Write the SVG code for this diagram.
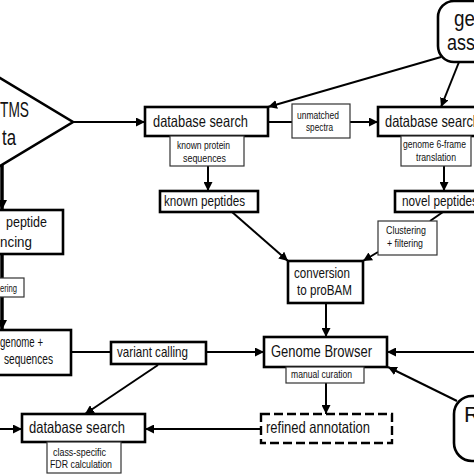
<svg xmlns="http://www.w3.org/2000/svg" width="474" height="474" viewBox="0 0 474 474">
<defs>
<marker id="ah" viewBox="0 0 10 10" refX="10" refY="5" markerWidth="9" markerHeight="9" markerUnits="userSpaceOnUse" orient="auto">
<path d="M0,0 L10,5 L0,10 Z" fill="#000"/>
</marker>
<marker id="ahb" viewBox="0 0 10 10" refX="10" refY="5" markerWidth="10" markerHeight="10" markerUnits="userSpaceOnUse" orient="auto">
<path d="M0,0 L10,5 L0,10 Z" fill="#000"/>
</marker>
</defs>
<style>
.main{fill:#fff;stroke:#000;stroke-width:2.6}
.sub{fill:#fff;stroke:#333;stroke-width:1.2}
.dash{fill:#fff;stroke:#000;stroke-width:2.4;stroke-dasharray:9 4}
.round{fill:#fff;stroke:#000;stroke-width:2.6}
text{font-family:"Liberation Sans",Arial,sans-serif;fill:#111}
.t16{font-size:16.5px}
.t15{font-size:15px}
.t14{font-size:14px}
.t11{font-size:11px}
.t10{font-size:10px}
.big{font-size:22px}
.c{fill:none;stroke:#000;stroke-width:2}
.ct{fill:none;stroke:#000;stroke-width:3.5}
</style>
<rect width="474" height="474" fill="#fff"/>
<g id="connectors">
<line class="c" x1="73" y1="122" x2="145" y2="122" marker-end="url(#ah)"/>
<line class="c" x1="268" y1="122" x2="292" y2="122"/>
<line class="c" x1="350" y1="122" x2="378" y2="122" marker-end="url(#ah)"/>
<line class="c" x1="441" y1="57" x2="268" y2="107" marker-end="url(#ah)"/>
<line class="c" x1="459" y1="62" x2="441" y2="107" marker-end="url(#ah)"/>
<line class="c" x1="208" y1="166" x2="208" y2="191" marker-end="url(#ah)"/>
<line class="c" x1="444" y1="166" x2="444" y2="191" marker-end="url(#ah)"/>
<line class="c" x1="232" y1="212" x2="288" y2="261" marker-end="url(#ah)"/>
<line class="c" x1="443" y1="212" x2="430" y2="221"/>
<line class="c" x1="378" y1="252" x2="363" y2="261" marker-end="url(#ah)"/>
<line class="c" x1="326" y1="303" x2="326" y2="337" marker-end="url(#ah)"/>
<line class="c" x1="71" y1="352" x2="111" y2="352"/>
<line class="c" x1="206" y1="352" x2="264" y2="352" marker-end="url(#ah)"/>
<line class="c" x1="476" y1="352" x2="387" y2="352" marker-end="url(#ah)"/>
<line class="c" x1="457" y1="401" x2="388" y2="367" marker-end="url(#ah)"/>
<line class="c" x1="326" y1="383" x2="326" y2="414" marker-end="url(#ah)"/>
<line class="c" x1="261" y1="429" x2="145" y2="429" marker-end="url(#ah)"/>
<line class="c" x1="-2" y1="429" x2="22" y2="429" marker-end="url(#ah)"/>
<line class="c" x1="158" y1="365" x2="85" y2="414" marker-end="url(#ah)"/>
<line class="ct" x1="2" y1="163" x2="2" y2="210" marker-end="url(#ahb)"/>
<line class="ct" x1="2" y1="254" x2="2" y2="278"/>
<line class="ct" x1="2" y1="297" x2="2" y2="330" marker-end="url(#ahb)"/>
</g>
<g id="msms-data">
<polygon class="main" points="-60,42 73,122 -60,202"/>
<text class="big" x="0" y="117" textLength="29" lengthAdjust="spacingAndGlyphs">TMS</text>
<text class="big" x="2" y="145" textLength="14" lengthAdjust="spacingAndGlyphs">ta</text>
</g>
<g id="db-search-1">
<rect class="main" x="145" y="107" width="123" height="29"/>
<text class="t16" x="153" y="127" textLength="95" lengthAdjust="spacingAndGlyphs">database search</text>
</g>
<g id="known-protein-sequences">
<rect class="sub" x="170" y="136" width="74" height="30"/>
<text class="t11" x="177" y="149" textLength="53" lengthAdjust="spacingAndGlyphs">known protein</text>
<text class="t11" x="183" y="162" textLength="43" lengthAdjust="spacingAndGlyphs">sequences</text>
</g>
<g id="unmatched-spectra">
<rect class="sub" x="292" y="104" width="58" height="34"/>
<text class="t11" x="297" y="119" textLength="42" lengthAdjust="spacingAndGlyphs">unmatched</text>
<text class="t11" x="306" y="131" textLength="27" lengthAdjust="spacingAndGlyphs">spectra</text>
</g>
<g id="db-search-2">
<rect class="main" x="378" y="107" width="125" height="29"/>
<text class="t16" x="385" y="127" textLength="95" lengthAdjust="spacingAndGlyphs">database search</text>
</g>
<g id="genome-6frame">
<rect class="sub" x="401" y="136" width="70" height="30"/>
<text class="t11" x="403" y="148" textLength="63" lengthAdjust="spacingAndGlyphs">genome 6-frame</text>
<text class="t11" x="416" y="161" textLength="40" lengthAdjust="spacingAndGlyphs">translation</text>
</g>
<g id="genome-assembly">
<rect class="round" x="438" y="1" width="100" height="61" rx="16"/>
<text class="big" x="454" y="26" textLength="21" lengthAdjust="spacingAndGlyphs">ge</text>
<text class="big" x="447" y="50" textLength="28" lengthAdjust="spacingAndGlyphs">ass</text>
</g>
<g id="known-peptides">
<rect class="main" x="160" y="191" width="98" height="21"/>
<text class="t15" x="164" y="206" textLength="81" lengthAdjust="spacingAndGlyphs">known peptides</text>
</g>
<g id="novel-peptides">
<rect class="main" x="395" y="191" width="90" height="21"/>
<text class="t15" x="402" y="206" textLength="76" lengthAdjust="spacingAndGlyphs">novel peptides</text>
</g>
<g id="clustering">
<rect class="sub" x="378" y="221" width="59" height="34"/>
<text class="t11" x="386" y="234" textLength="40" lengthAdjust="spacingAndGlyphs">Clustering</text>
<text class="t11" x="387" y="247" textLength="36" lengthAdjust="spacingAndGlyphs">+ filtering</text>
</g>
<g id="conversion">
<rect class="main" x="288" y="261" width="75" height="42"/>
<text class="t15" x="294" y="278" textLength="56" lengthAdjust="spacingAndGlyphs">conversion</text>
<text class="t15" x="297" y="295" textLength="55" lengthAdjust="spacingAndGlyphs">to proBAM</text>
</g>
<g id="genome-browser">
<rect class="main" x="264" y="337" width="123" height="30"/>
<text class="t16" x="271" y="357" textLength="101" lengthAdjust="spacingAndGlyphs">Genome Browser</text>
</g>
<g id="manual-curation">
<rect class="sub" x="286" y="367" width="78" height="16"/>
<text class="t10" x="291" y="378" textLength="61" lengthAdjust="spacingAndGlyphs">manual curation</text>
</g>
<g id="refined-annotation">
<rect class="dash" x="261" y="414" width="131" height="29"/>
<text class="t16" x="266" y="433" textLength="104" lengthAdjust="spacingAndGlyphs">refined annotation</text>
</g>
<g id="de-novo">
<rect class="main" x="-20" y="210" width="83" height="44"/>
<text class="t15" x="6" y="227" textLength="41" lengthAdjust="spacingAndGlyphs">peptide</text>
<text class="t15" x="0" y="247" textLength="32" lengthAdjust="spacingAndGlyphs">ncing</text>
</g>
<g id="filtering">
<rect class="sub" x="-20" y="278" width="44" height="19"/>
<text class="t11" x="0" y="292" textLength="17" lengthAdjust="spacingAndGlyphs">ering</text>
</g>
<g id="genome-sequences">
<rect class="main" x="-20" y="330" width="91" height="45"/>
<text class="t14" x="0" y="347" textLength="43" lengthAdjust="spacingAndGlyphs">genome +</text>
<text class="t14" x="4" y="364" textLength="49" lengthAdjust="spacingAndGlyphs">sequences</text>
</g>
<g id="variant-calling">
<rect class="main" x="111" y="342" width="95" height="22"/>
<text class="t15" x="117" y="357" textLength="71" lengthAdjust="spacingAndGlyphs">variant calling</text>
</g>
<g id="db-search-3">
<rect class="main" x="22" y="414" width="123" height="28"/>
<text class="t16" x="29" y="433" textLength="96" lengthAdjust="spacingAndGlyphs">database search</text>
</g>
<g id="fdr">
<rect class="sub" x="47" y="442" width="74" height="31"/>
<text class="t11" x="53" y="456" textLength="53" lengthAdjust="spacingAndGlyphs">class-specific</text>
<text class="t11" x="50" y="468" textLength="62" lengthAdjust="spacingAndGlyphs">FDR calculation</text>
</g>
<g id="rna-seq">
<rect class="round" x="454" y="396" width="60" height="65" rx="18"/>
<text class="big" x="464" y="422">R</text>
</g>
</svg>
